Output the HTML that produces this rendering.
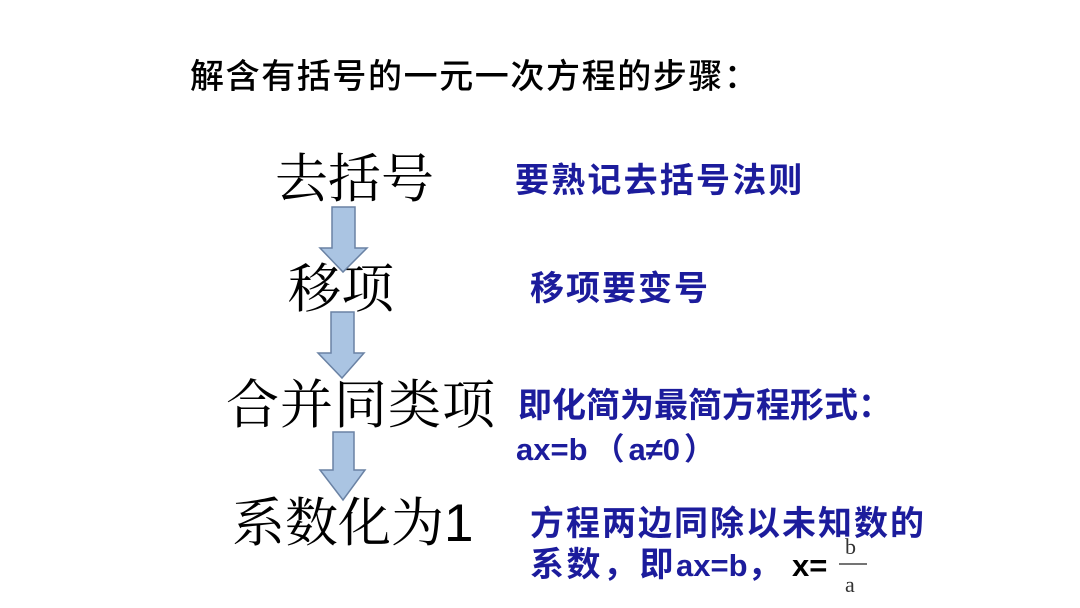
<!DOCTYPE html>
<html><head><meta charset="utf-8"><style>
body{margin:0;width:1080px;height:608px;background:#fff;position:relative;overflow:hidden}
div{position:absolute;white-space:nowrap;line-height:1}
.t{font-family:"Noto Sans CJK SC",sans-serif;font-size:34px;color:#000;left:190px;top:57px;letter-spacing:1.6px;font-weight:500}
.l{font-family:"Liberation Serif","Noto Serif CJK SC",serif;font-size:53px;color:#000}
.b{font-family:"Noto Sans CJK SC",sans-serif;color:#1c1c9c;font-size:34px;font-weight:bold}
.m{font-family:"Liberation Sans",sans-serif;font-weight:bold}
</style></head><body>
<div class="t">解含有括号的一元一次方程的步骤：</div>
<div class="l" style="left:275px;top:154px">去括号</div>
<div class="l" style="left:288px;top:264px">移项</div>
<div class="l" style="left:226px;top:380px;letter-spacing:1px">合并同类项</div>
<div class="l" style="left:232px;top:497px">系数化为<span style="font-family:'Liberation Sans',sans-serif">1</span></div>
<svg width="1080" height="608" style="position:absolute;left:0;top:0">
<g fill="#aac4e2" stroke="#6a82a4" stroke-width="1.5">
<polygon points="332,207 355,207 355,248 367,248 343,272 320,248 332,248"/>
<polygon points="331,312 354,312 354,353 364,353 342,378 318,353 331,353"/>
<polygon points="333,432 354,432 354,470 365,470 343,500 320,470 333,470"/>
</g>
<line x1="839" y1="564" x2="867" y2="564" stroke="#222" stroke-width="1.2"/>
</svg>
<div class="b" style="left:515px;top:161px;letter-spacing:2.2px">要熟记去括号法则</div>
<div class="b" style="left:530px;top:269px;letter-spacing:2px">移项要变号</div>
<div class="b" style="left:518px;top:386px;letter-spacing:0px">即化简为最简方程形式：</div>
<div class="b m" style="left:516px;top:431px;font-size:31px">ax=b<span style="font-family:'Noto Sans CJK SC',sans-serif;margin:0 4px 0 6px">（</span>a≠0<span style="font-family:'Noto Sans CJK SC',sans-serif;margin-left:4px">）</span></div>
<div class="b" style="left:530px;top:504px;letter-spacing:2px">方程两边同除以未知数的</div>
<div class="b" style="left:530px;top:545px;letter-spacing:2.5px">系数，即<span class="m" style="font-size:31px;letter-spacing:0">ax=b</span>，<span class="m" style="color:#000;font-size:31px;letter-spacing:0;margin-left:8px">x=</span></div>
<div style="left:845px;top:536px;font-family:'Liberation Serif',serif;font-size:22px;color:#333">b</div>
<div style="left:845px;top:574px;font-family:'Liberation Serif',serif;font-size:22px;color:#333">a</div>
</body></html>
